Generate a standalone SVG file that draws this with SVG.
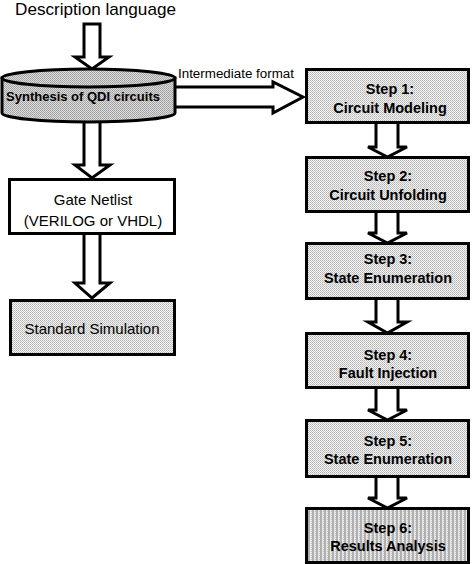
<svg xmlns="http://www.w3.org/2000/svg" width="472" height="564" viewBox="0 0 472 564">
<defs>
<pattern id="dots" width="2" height="2" patternUnits="userSpaceOnUse">
<rect width="2" height="2" fill="#f2f2f2"/>
<rect width="1" height="1" fill="#b4b4b4"/>
<rect x="1" y="1" width="1" height="1" fill="#c8c8c8"/>
</pattern>
<pattern id="dark" width="2" height="2" patternUnits="userSpaceOnUse">
<rect width="2" height="2" fill="#dcdcdc"/>
<rect width="1" height="1" fill="#a0a0a0"/>
<rect x="1" y="1" width="1" height="1" fill="#a8a8a8"/>
</pattern>
<pattern id="stripes" width="4" height="2" patternUnits="userSpaceOnUse">
<rect width="4" height="2" fill="#e8e8e8"/>
<rect x="0" width="2" height="2" fill="#b0b0b0"/>
<rect x="3" y="1" width="1" height="1" fill="#c4c4c4"/>
</pattern>
</defs>
<style>
.box{stroke:#000;stroke-width:3}
.arr{fill:#fff;stroke:#000;stroke-width:3;stroke-linejoin:miter}
.t{font-family:"Liberation Sans",Arial,sans-serif;fill:#000}
.b{font-weight:bold;font-size:14.5px;text-anchor:middle}
.r{font-size:15px;text-anchor:middle}
</style>
<text class="t" x="15" y="15" font-size="17" textLength="161" lengthAdjust="spacingAndGlyphs">Description language</text>
<g id="connectors">
<polygon class="arr" points="84,24 100,24 100,57 109,57 92,69 75,57 84,57"/>
<polygon class="arr" points="84,121 100,121 100,165 110,165 92,178 75,165 84,165"/>
<polygon class="arr" points="84,233 100,233 100,283 110,283 92,298 75,283 84,283"/>
<polygon points="175,87 273,87 273,82 303,97 273,113 273,107 175,107" fill="#fff"/>
<polyline class="arr" points="175,87 273,87 273,82 303,97 273,113 273,107 175,107" fill="none"/>
<polygon class="arr" points="376,122 398,122 398,147 407,147 387.5,157 368,147 376,147"/>
<polygon class="arr" points="376,211 398,211 398,233 407,233 387.5,243 368,233 376,233"/>
<polygon class="arr" points="376,298 398,298 398,322 407,322 387.5,333 368,322 376,322"/>
<polygon class="arr" points="376,387 398,387 398,410 407,410 387.5,420 368,410 376,410"/>
<polygon class="arr" points="376,476 398,476 398,498 407,498 387.5,508 368,498 376,498"/>
<text class="t" x="178" y="78" font-size="12" textLength="116" lengthAdjust="spacingAndGlyphs">Intermediate format</text>
</g>
<g id="synthesis">
<path class="box" fill="url(#dark)" d="M2,78 L2,113 A86.5,9 0 0 0 175,113 L175,78 Z"/>
<ellipse class="box" fill="url(#dark)" cx="88.5" cy="78" rx="86.5" ry="9"/>
<text class="t" x="83" y="101" font-size="13" font-weight="bold" text-anchor="middle">Synthesis of QDI circuits</text>
</g>
<g id="netlist">
<rect class="box" fill="#fff" x="9.5" y="179.5" width="165" height="54"/>
<text class="t r" x="93" y="205">Gate Netlist</text>
<text class="t r" x="93" y="226">(VERILOG or VHDL)</text>
</g>
<g id="simulation">
<rect class="box" fill="url(#dots)" x="10.5" y="300.5" width="164" height="54"/>
<text class="t r" x="92" y="334">Standard Simulation</text>
</g>
<g id="step1">
<rect class="box" fill="url(#dots)" x="306.5" y="69.5" width="162" height="53"/>
<text class="t b" x="390" y="94">Step 1:</text>
<text class="t b" x="390" y="113">Circuit Modeling</text>
</g>
<g id="step2">
<rect class="box" fill="url(#dots)" x="306.5" y="157.5" width="162" height="54"/>
<text class="t b" x="388" y="181">Step 2:</text>
<text class="t b" x="388" y="200">Circuit Unfolding</text>
</g>
<g id="step3">
<rect class="box" fill="url(#dots)" x="306.5" y="243.5" width="162" height="55"/>
<text class="t b" x="388" y="264">Step 3:</text>
<text class="t b" x="388" y="283">State Enumeration</text>
</g>
<g id="step4">
<rect class="box" fill="url(#dots)" x="306.5" y="333.5" width="162" height="54"/>
<text class="t b" x="388" y="360">Step 4:</text>
<text class="t b" x="388" y="378">Fault Injection</text>
</g>
<g id="step5">
<rect class="box" fill="url(#dots)" x="306.5" y="420.5" width="162" height="56"/>
<text class="t b" x="388" y="446">Step 5:</text>
<text class="t b" x="388" y="464">State Enumeration</text>
</g>
<g id="step6">
<rect class="box" fill="url(#stripes)" x="306.5" y="508.5" width="162" height="54"/>
<text class="t b" x="388" y="533">Step 6:</text>
<text class="t b" x="388" y="551">Results Analysis</text>
</g>
</svg>
